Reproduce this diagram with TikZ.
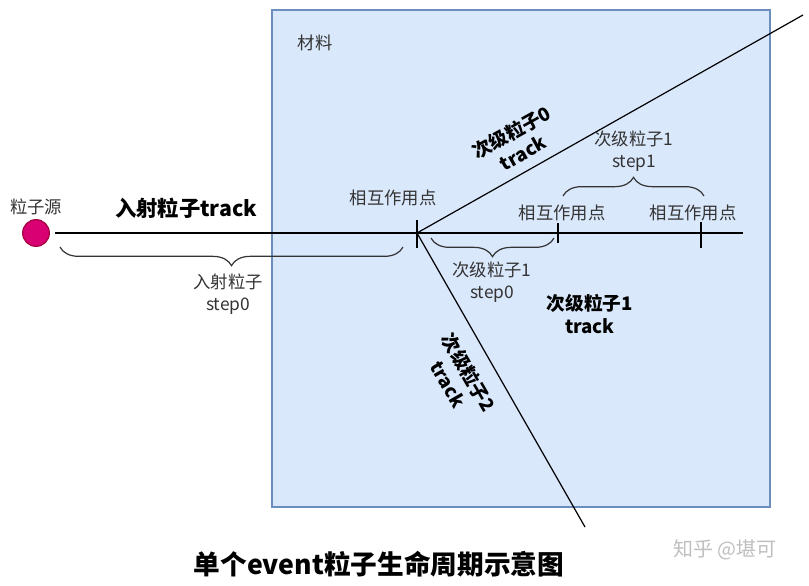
\documentclass[tikz,border=0pt]{standalone}
\usepackage{fontspec}
\setmainfont{Noto Sans CJK SC}
\usetikzlibrary{decorations.pathreplacing}
\definecolor{matfill}{HTML}{DAE8FC}
\definecolor{matline}{HTML}{6C8EBF}
\definecolor{srcfill}{HTML}{D80073}
\definecolor{srcline}{HTML}{A50040}
\definecolor{txtgray}{HTML}{333333}
\tikzset{
  lbl/.style={font=\fontsize{13}{16.5}\selectfont, text=txtgray, align=center, inner sep=0pt},
  trk/.style={font=\bfseries\fontsize{14}{17.5}\selectfont, align=center, inner sep=0pt},
  brc/.style={decorate, decoration={brace, amplitude=14pt}, draw=txtgray, line width=0.9pt}
}

\begin{document}
\begin{tikzpicture}[x=0.75pt, y=-0.75pt, line width=0.9pt]
\useasboundingbox (0,0) rectangle (809,585);
\draw[fill=matfill, draw=matline] (272,10) rectangle (770,507);
\node[lbl] (mat) at (315,43) {材料};
% source and tracks
\node[circle, fill=srcfill, draw=srcline, minimum size=20pt, inner sep=0pt] (src) at (36,233) {};
\node[lbl] (srclbl) at (36,207) {粒子源};
\coordinate (hit0) at (417,233);
\coordinate (end1) at (743,233);
\coordinate (end0) at (803,15);
\coordinate (end2) at (585,527);
\draw ([xshift=4pt]src.east) -- (hit0) -- (end1);
\draw (hit0) -- (end0);
\draw (hit0) -- (end2);
\foreach \x/\a/\b in {417/220/248, 558/223/243, 701/222/248}
  \draw (\x,\a) -- (\x,\b);
% braces
\draw[brc] (403,247) -- (60,247);
\draw[brc] (554,238) -- (431,238);
\draw[brc] (563,196) -- (704,196);
% labels
\node[trk, font=\bfseries\fontsize{16}{19}\selectfont] (inctrk) at (186,208) {入射粒子track};
\node[lbl] (hit0lbl) at (393,198) {相互作用点};
\node[lbl] (hit1lbl) at (562,213) {相互作用点};
\node[lbl] (hit2lbl) at (693,213) {相互作用点};
\node[lbl] (incstep) at (228,294) {入射粒子\\step0};
\node[lbl] (s1step0) at (492,282) {次级粒子1\\step0};
\node[lbl] (s1step1) at (634,151) {次级粒子1\\step1};
\node[trk, rotate=29] (trk0) at (517,142) {次级粒子0\\track};
\node[trk] (trk1) at (590,314) {次级粒子1\\track};
\node[trk, rotate=-60] (trk2) at (459,378) {次级粒子2\\track};
\node[font=\bfseries\fontsize{20}{24}\selectfont, inner sep=0pt] (title) at (379,564) {单个event粒子生命周期示意图};
\node[font=\fontsize{15}{18}\selectfont, text=black!25, inner sep=0pt] (mark) at (725,550) {知乎 @堪可};
\end{tikzpicture}
\end{document}
